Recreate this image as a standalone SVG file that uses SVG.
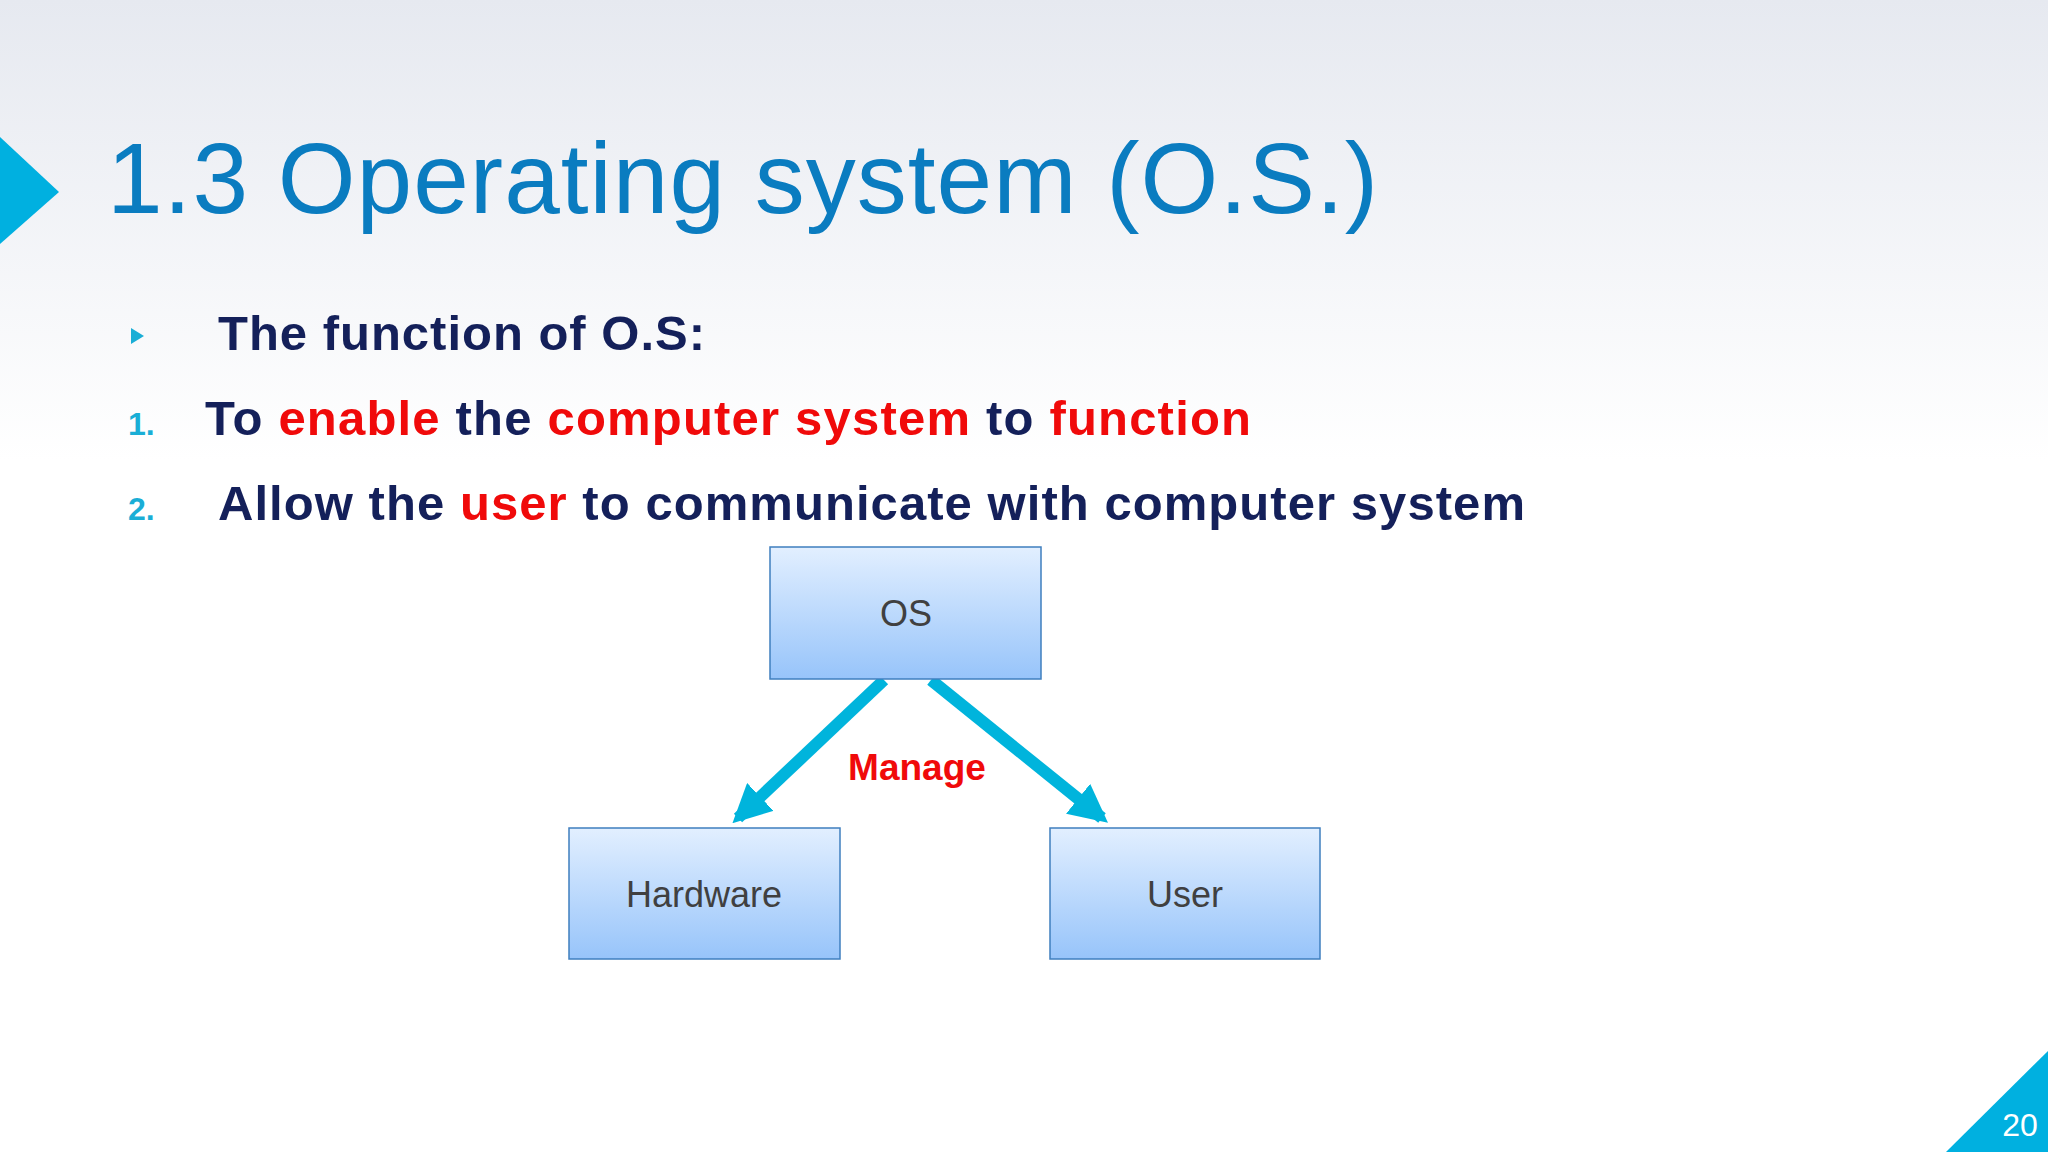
<svg xmlns="http://www.w3.org/2000/svg" width="2048" height="1152" viewBox="0 0 2048 1152">
<defs>
<linearGradient id="bg" x1="0" y1="0" x2="0" y2="1"><stop offset="0" stop-color="#e6e9f0"/><stop offset="0.4" stop-color="#ffffff"/><stop offset="1" stop-color="#ffffff"/></linearGradient>
<linearGradient id="box" x1="0" y1="0" x2="0" y2="1"><stop offset="0" stop-color="#e2efff"/><stop offset="1" stop-color="#97c4fa"/></linearGradient>
<marker id="ah" viewBox="0 0 10 10" refX="8" refY="5" markerWidth="3.2" markerHeight="3.2" orient="auto"><path d="M0,0 L10,5 L0,10 z" fill="#00b4dc"/></marker>
<style>
.node rect{fill:url(#box);stroke:#3f7fbf;stroke-width:1.5}
.node text{font-family:"Liberation Sans",Arial,sans-serif;font-size:36px;fill:#404040;text-anchor:middle}
.b{font-family:"Liberation Sans",Arial,sans-serif;font-weight:bold;font-size:49px;fill:#14205a}
.r{fill:#f00a0a}
.num{font-family:"Liberation Sans",Arial,sans-serif;font-weight:bold;font-size:32px;fill:#1aaed6}
.conn line{stroke:#00b4dc;stroke-width:12;marker-end:url(#ah)}
</style>
</defs>
<rect width="2048" height="1152" fill="url(#bg)"/>
<polygon points="0,137 59,192 0,244" fill="#00b0e0"/>
<text x="107" y="213" font-family="Liberation Sans,Arial,sans-serif" font-size="100" fill="#0a7cc0" textLength="1271" lengthAdjust="spacing">1.3 Operating system (O.S.)</text>
<polygon points="131,328 144,336 131,344" fill="#1aaed6"/>
<text x="218" y="350" class="b" textLength="487" lengthAdjust="spacing">The function of O.S:</text>
<text x="128" y="435" class="num">1.</text>
<text x="205" y="435" class="b" textLength="1046" lengthAdjust="spacing">To <tspan class="r">enable</tspan> the <tspan class="r">computer system</tspan> to <tspan class="r">function</tspan></text>
<text x="128" y="520" class="num">2.</text>
<text x="218" y="520" class="b" textLength="1307" lengthAdjust="spacing">Allow the <tspan class="r">user</tspan> to communicate with computer system</text>
<g class="conn">
<line x1="884" y1="680" x2="738" y2="818"/>
<line x1="931" y1="680" x2="1102" y2="818"/>
</g>
<text x="917" y="780" text-anchor="middle" font-family="Liberation Sans,Arial,sans-serif" font-weight="bold" font-size="37" fill="#f00a0a">Manage</text>
<g id="os" class="node"><rect x="770" y="547" width="271" height="132"/><text x="906" y="626">OS</text></g>
<g id="hardware" class="node"><rect x="569" y="828" width="271" height="131"/><text x="704" y="907">Hardware</text></g>
<g id="user" class="node"><rect x="1050" y="828" width="270" height="131"/><text x="1185" y="907">User</text></g>
<polygon points="1946,1152 2048,1051 2048,1152" fill="#00b0e0"/>
<text x="2020" y="1136" text-anchor="middle" font-family="Liberation Sans,Arial,sans-serif" font-size="32" fill="#ffffff">20</text>
</svg>
